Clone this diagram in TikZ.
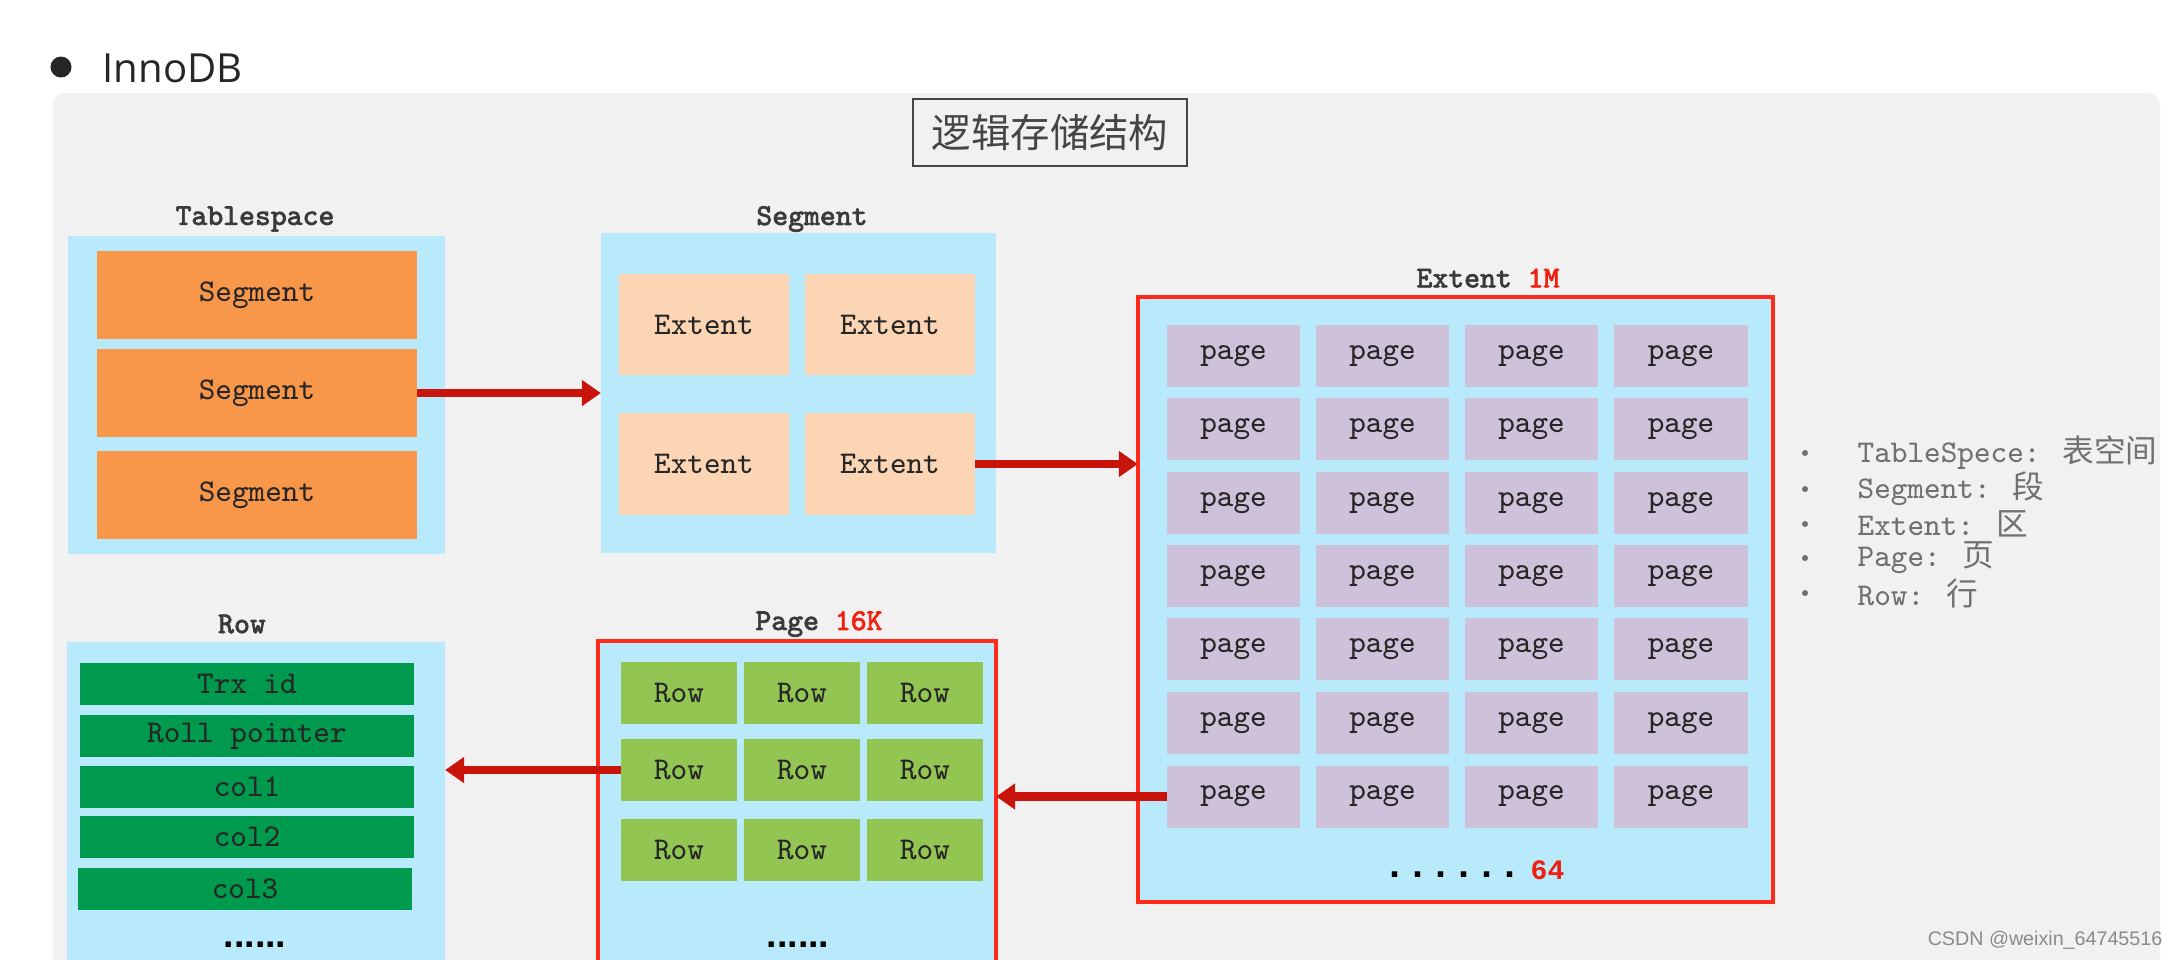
\documentclass[tikz,border=0pt]{standalone}
\usepackage{fontspec}
\usetikzlibrary{arrows.meta}
\newfontfamily\monof{Liberation Mono}
\newfontfamily\lmbold{Latin Modern Mono}[FakeBold=2.2]
\newfontfamily\cjkf{Noto Sans CJK SC}
\newfontfamily\sansf{Open Sans}
\newfontfamily\wmf{Liberation Sans}
\newcommand{\boxfont}{\ttfamily\fontsize{9pt}{10pt}\selectfont}
\newcommand{\lblfont}{\lmbold\fontsize{8.6pt}{9pt}\selectfont}
\newcommand{\legfont}{\ttfamily\fontsize{9pt}{10pt}\selectfont}
\definecolor{panel}{HTML}{F1F1F1}
\definecolor{lblue}{HTML}{B9EAFB}
\definecolor{segorange}{HTML}{F8964A}
\definecolor{peach}{HTML}{FCD5B4}
\definecolor{lav}{HTML}{CEC2DB}
\definecolor{lgreen}{HTML}{93C552}
\definecolor{dgreen}{HTML}{009A4E}
\definecolor{redframe}{HTML}{FF2A1A}
\definecolor{arrred}{HTML}{C8140A}
\definecolor{redtxt}{HTML}{F02010}
\definecolor{lblgray}{HTML}{3A3A3A}
\definecolor{boxtext}{HTML}{262626}
\definecolor{leggray}{HTML}{707070}
\definecolor{titlegray}{HTML}{454545}
\definecolor{wmgray}{HTML}{8A8A8A}
\begin{document}
\begin{tikzpicture}[x=0.01cm,y=-0.01cm,
  box/.style={rectangle, inner sep=0pt, outer sep=0pt, draw=none, text=boxtext},
  bluebox/.style={box, fill=lblue},
  redbox/.style={box, fill=lblue, draw=redframe, line width=0.035cm},
  seg/.style={box, fill=segorange, minimum width=3.20cm, minimum height=0.87cm, font=\boxfont},
  ext/.style={box, fill=peach, minimum width=1.70cm, minimum height=1.01cm, font=\boxfont},
  pagebox/.style={box, fill=lav, minimum width=1.33cm, minimum height=0.62cm, font=\boxfont},
  rowcell/.style={box, fill=lgreen, minimum width=1.16cm, minimum height=0.62cm, font=\boxfont},
  field/.style={box, fill=dgreen, minimum width=3.34cm, minimum height=0.42cm, font=\boxfont},
  lbl/.style={font=\lblfont, text=lblgray, inner sep=0pt},
  legend/.style={anchor=west, font=\legfont, text=leggray, inner sep=0pt},
  arr/.style={draw=arrred, line width=0.085cm, -{Triangle[length=0.19cm,width=0.25cm]}}
]
\useasboundingbox (0,0) rectangle (2179,959);
\clip (0,0) rectangle (2179,959);
\fill[white] (0,0) rectangle (2179,959);
\fill[panel, rounded corners=0.12cm] (53,93) rectangle (2160,1100);

% header
\fill[black!85] (61,67) circle (0.105cm);
\node[anchor=base west, inner sep=0pt, font=\sansf\fontsize{11.4pt}{12pt}\selectfont, text=black!85] (inno) at (102,82) {InnoDB};
\node[draw=titlegray, line width=0.025cm, minimum width=2.74cm, minimum height=0.67cm, inner sep=0pt,
  font=\cjkf\fontsize{11.2pt}{12pt}\selectfont, text=titlegray] (title) at (1050,132.5) {逻辑存储结构};

% Tablespace
\node[lbl] (tsl) at (255,219) {Tablespace};
\node[bluebox, minimum width=3.77cm, minimum height=3.18cm] (ts) at (256.5,395) {};
\node[seg] (s1) at (257,295) {Segment};
\node[seg] (s2) at (257,393) {Segment};
\node[seg] (s3) at (257,495) {Segment};

% Segment
\node[lbl] (sgl) at (812,219) {Segment};
\node[bluebox, minimum width=3.95cm, minimum height=3.20cm] (sg) at (798.5,393) {};
\node[ext] (e11) at (704,324.5) {Extent};
\node[ext] (e12) at (890,324.5) {Extent};
\node[ext] (e21) at (704,464) {Extent};
\node[ext] (e22) at (890,464) {Extent};

% Extent
\node[lbl] (exl) at (1488,278) {Extent \textcolor{redtxt}{1M}};
\node[redbox, minimum width=6.35cm, minimum height=6.05cm] (ex) at (1455.5,599.5) {};
\foreach \r [count=\i] in {356,429.3,502.6,576,649.3,722.6,796.5}
  \foreach \c [count=\j] in {1233.5,1382.5,1531.5,1681}
    \node[pagebox] (p\i\j) at (\c,\r) {page};
\node[anchor=base west, inner sep=0pt, font=\monof\bfseries\fontsize{10.9pt}{11pt}\selectfont] (exdots) at (1383,877) {......};
\node[anchor=base west, inner sep=0pt, font=\monof\bfseries\fontsize{8pt}{9pt}\selectfont, text=redtxt] (ex64) at (1530,879) {64};

% Page
\node[lbl] (pgl) at (819,624) {Page \textcolor{redtxt}{16K}};
\node[redbox, minimum width=3.98cm, minimum height=3.59cm] (pg) at (797,820.5) {};
\foreach \r [count=\i] in {692.5,770,850}
  \foreach \c [count=\j] in {679,802,925}
    \node[rowcell] (r\i\j) at (\c,\r) {Row};
\node[anchor=base, inner sep=0pt, font=\wmf\bfseries\fontsize{10.7pt}{11pt}\selectfont] (pgdots) at (798,947) {......};

% Row
\node[lbl] (rwl) at (242,624) {Row};
\node[bluebox, minimum width=3.78cm, minimum height=3.58cm] (rw) at (256,821) {};
\node[field] (f1) at (247,684) {Trx id};
\node[field] (f2) at (247,736) {Roll pointer};
\node[field] (f3) at (247,787) {col1};
\node[field] (f4) at (247,837) {col2};
\node[field] (f5) at (245,889) {col3};
\node[anchor=base, inner sep=0pt, font=\wmf\bfseries\fontsize{10.7pt}{11pt}\selectfont] (rwdots) at (255,947) {......};

% arrows
\draw[arr] (s2.east) -- (sg.west |- s2.east);
\draw[arr] (e22.east) -- (ex.west |- e22.east);
\draw[arr] (p71.west) -- (pg.east |- p71.west);
\draw[arr] (r21.west) -- (rw.east |- r21.west);

% legend
\foreach \y in {453,489,524,558,593} \fill[leggray] (1805,\y) circle (0.03cm);
\node[legend] (l1) at (1857,453) {TableSpece: {\cjkf 表空间}};
\node[legend] (l2) at (1857,489) {Segment: {\cjkf 段}};
\node[legend] (l3) at (1857,524) {Extent: {\cjkf 区}};
\node[legend] (l4) at (1857,558) {Page: {\cjkf 页}};
\node[legend] (l5) at (1857,593) {Row: {\cjkf 行}};

% watermark
\node[anchor=east, inner sep=0pt, font=\wmf\fontsize{5.6pt}{6pt}\selectfont, text=wmgray] (wm) at (2163,940) {CSDN @weixin\_64745516};
\end{tikzpicture}
\end{document}
